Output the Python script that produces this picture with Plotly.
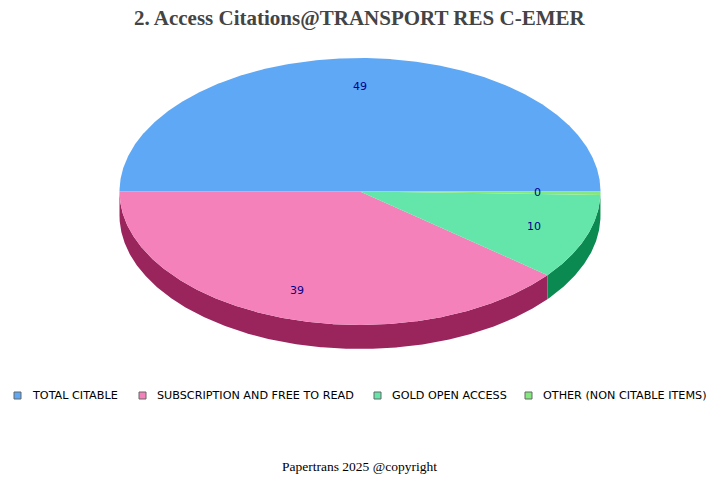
import numpy as np
import plotly.graph_objects as go

categories = ["TOTAL CITABLE", "SUBSCRIPTION AND FREE TO READ", "GOLD OPEN ACCESS", "OTHER (NON CITABLE ITEMS)"]
slice_values = [49.4, 38.75, 10.25, 0.4]
labels = ["49", "39", "10", "0"]
top_colors = ["#5FA8F5", "#F481BA", "#64E5AA", "#85E87F"]
side_colors = ["#2F6FB5", "#9A255C", "#0A8A50", "#3FA03F"]

CX, CY, RX, RY, DEPTH = 360, 191.5, 240.5, 133.5, 24
LEGEND_Y = 395.5
LEGEND_BOX = [14, 139, 374, 525]
LABEL_R = [0.79, 0.79, 0.77, 0.74]


def arc(a0, a1):
    t = np.radians(np.linspace(a0, a1, max(3, int(abs(a1 - a0) * 3))))
    return CX + RX * np.cos(t), CY - RY * np.sin(t)


fig = go.Figure()
total = sum(slice_values)
start = 0.0
spans = []
for v in slice_values:
    end = start + v / total * 360
    spans.append((start, end))
    start = end

# side walls: only the lower half of the rim is visible
for (a0, a1), col, name in zip(spans, side_colors, categories):
    lo, hi = max(a0, 180), min(a1, 360)
    if hi > lo:
        x, y = arc(lo, hi)
        fig.add_trace(go.Scatter(
            x=np.r_[x, x[::-1]], y=np.r_[y, y[::-1] + DEPTH], mode="lines", fill="toself",
            fillcolor=col, line=dict(width=0, color=col), hoverinfo="skip", showlegend=False))

# top faces
for (a0, a1), col, name, v in zip(spans, top_colors, categories, labels):
    x, y = arc(a0, a1)
    fig.add_trace(go.Scatter(
        x=np.r_[CX, x, CX], y=np.r_[CY, y, CY], mode="lines", fill="toself",
        fillcolor=col, line=dict(width=0, color=col), name=name,
        hoverinfo="text", text=f"{name}: {v}", showlegend=False))

# value labels
for (a0, a1), v, r in zip(spans, labels, LABEL_R):
    m = np.radians((a0 + a1) / 2)
    fig.add_annotation(x=CX + r * RX * np.cos(m), y=CY - r * RY * np.sin(m), text=v,
                       showarrow=False, font=dict(family="DejaVu Sans", size=11, color="#00008B"))

# legend
for bx, name, col in zip(LEGEND_BOX, categories, top_colors):
    fig.add_shape(type="rect", x0=bx, x1=bx + 7, y0=LEGEND_Y - 3.5, y1=LEGEND_Y + 3.5,
                  fillcolor=col, line=dict(color="#666666", width=1))
    fig.add_annotation(x=bx + 16, y=LEGEND_Y, text=name, showarrow=False, xanchor="left",
                       font=dict(family="DejaVu Sans", size=11.2, color="#000000"))

fig.update_layout(
    width=720, height=480, margin=dict(l=0, r=0, t=0, b=0),
    paper_bgcolor="white", plot_bgcolor="white", showlegend=False,
    xaxis=dict(range=[0, 720], visible=False, fixedrange=True),
    yaxis=dict(range=[480, 0], visible=False, fixedrange=True),
    title=dict(text="<b>2. Access Citations@TRANSPORT RES C-EMER</b>", x=359.3 / 720, xanchor="center",
               y=1 - 18 / 480, yanchor="middle",
               font=dict(family="Liberation Serif", size=21, color="#444444")),
    annotations=list(fig.layout.annotations) + [
        dict(x=359.5, y=466, text="Papertrans 2025 @copyright", showarrow=False,
             font=dict(family="Liberation Serif", size=13.5, color="#000000"))
    ],
)
fig.write_html("out.html", post_script="document.body.style.margin='0';",
               config=dict(displayModeBar=False))
